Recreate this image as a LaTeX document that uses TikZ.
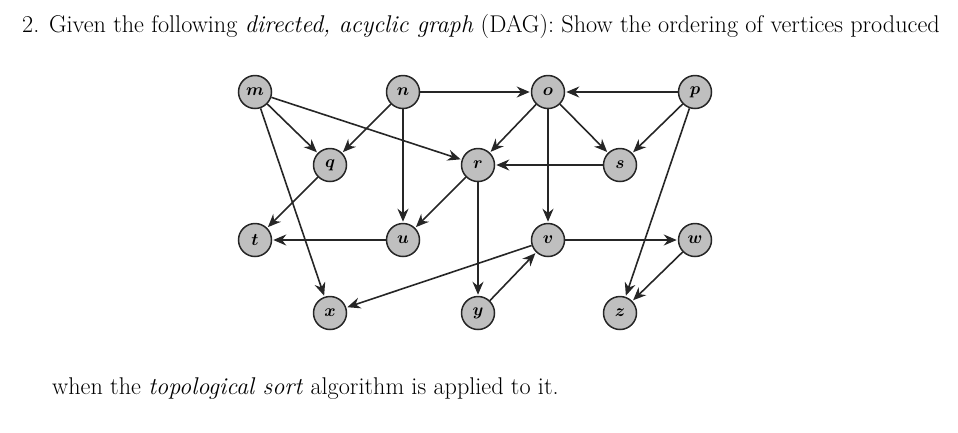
\documentclass[tikz,border=0pt]{standalone}
\usetikzlibrary{arrows.meta}
\begin{document}
\begin{tikzpicture}[x=1pt,y=-1pt,
 v/.style={circle,draw=black!85,line width=1.5pt,fill=black!25,minimum size=33pt,inner sep=0pt,font=\fontsize{19}{19}\selectfont\boldmath},
 e/.style={-{Stealth[length=13pt,width=11pt]},line width=1.6pt,black!85,shorten >=1pt},
 tx/.style={anchor=base west,inner sep=0pt,font=\fontsize{24.2}{28}\selectfont}]
\useasboundingbox (0,0) rectangle (958,432);
\node[tx] (t1) at (22,32) {2. Given the following \textit{directed, acyclic graph} (DAG): Show the ordering of vertices produced};
\node[tx] (t2) at (52,394) {when the \textit{topological sort} algorithm is applied to it.};
\node[v] (m) at (255,92) {$m$};
\node[v] (n) at (403,92) {$n$};
\node[v] (o) at (548,92) {$o$};
\node[v] (p) at (695,92) {$p$};
\node[v] (q) at (330,165) {$q$};
\node[v] (r) at (478,165) {$r$};
\node[v] (s) at (620,165) {$s$};
\node[v] (t) at (255,240) {$t$};
\node[v] (u) at (403,240) {$u$};
\node[v] (vv) at (548,240) {$v$};
\node[v] (w) at (695,240) {$w$};
\node[v] (x) at (330,313) {$x$};
\node[v] (y) at (478,313) {$y$};
\node[v] (z) at (620,313) {$z$};
\foreach \a/\b in {m/q,m/r,m/x,n/q,n/u,n/o,o/r,o/s,o/vv,p/o,p/s,p/z,q/t,r/u,r/y,s/r,u/t,vv/x,vv/w,w/z,y/vv}
  \draw[e] (\a) -- (\b);
\end{tikzpicture}
\end{document}
